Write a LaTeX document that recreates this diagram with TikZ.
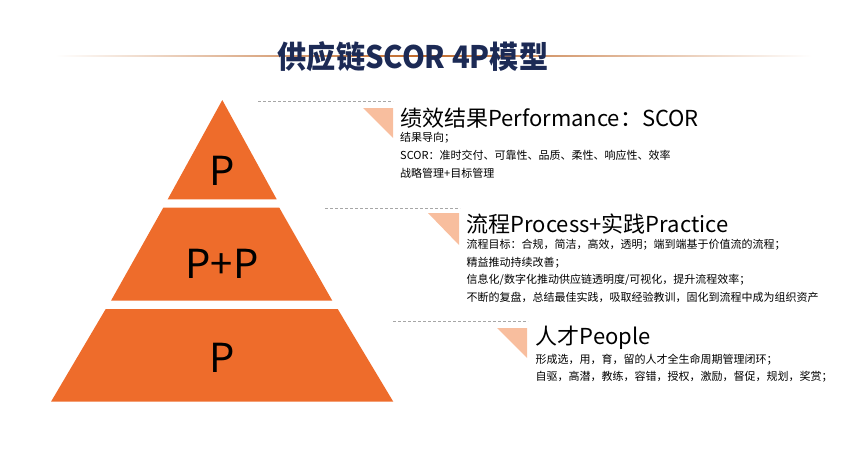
\documentclass[tikz,border=0pt]{standalone}
\usepackage{fontspec}
\setmainfont{Noto Sans CJK SC}
\usetikzlibrary{calc}
\definecolor{pyr}{HTML}{EE6C2B}
\definecolor{tri}{HTML}{F8BE9E}
\definecolor{navy}{HTML}{1C2A55}
\definecolor{tline}{HTML}{C0692A}
\tikzset{
  tier/.style={fill=pyr, draw=none},
  tierlabel/.style={font=\fontsize{40}{40}\selectfont, text=black, inner sep=0pt},
  corner/.style={fill=tri, draw=none},
  guide/.style={draw=gray!70, dashed, dash pattern=on 3pt off 2pt, line width=0.6pt},
  headline/.style={font=\fontsize{22}{22}\selectfont, anchor=west, inner sep=0pt},
  body/.style={font=\fontsize{11}{17.6}\selectfont, anchor=north west, inner sep=0pt, align=left},
}
\begin{document}
\begin{tikzpicture}[x=1pt,y=-1pt]
\useasboundingbox (0,0) rectangle (861,466);
% title line with fading ends
\shade[left color=white, right color=tline] (55,55.2) rectangle (420,56.4);
\shade[left color=tline, right color=white] (420,55.2) rectangle (812,56.4);
\node[font=\fontsize{31}{31}\selectfont\bfseries, text=navy, inner sep=0pt, xscale=0.94] (title) at (413,56.5) {供应链SCOR 4P模型};
% pyramid tiers
\path[tier] (222.3,100) -- (276.7,199.3) -- (167.7,199.3) -- cycle;
\path[tier] (163.3,207.7) -- (279.3,207.7) -- (332.3,300.7) -- (111,300.7) -- cycle;
\path[tier] (105.7,309) -- (337.7,309) -- (393.3,401.7) -- (51,401.7) -- cycle;
\node[tierlabel] (t1) at (222,171) {P};
\node[tierlabel] (t2) at (222,264) {P+P};
\node[tierlabel] (t3) at (222,358) {P};
% guide lines
\draw[guide] (258,101) -- (393,101);
\draw[guide] (325,208) -- (460,208);
\draw[guide] (393,321) -- (528,321);
% corner triangles
\path[corner] (363,108) -- (393,108) -- (393,138) -- cycle;
\path[corner] (428,213) -- (459,213) -- (459,245) -- cycle;
\path[corner] (497,328) -- (527,328) -- (527,358) -- cycle;
% block 1
\node[headline] (h1) at (400,118) {绩效结果Performance：SCOR};
\node[body] (b1) at (400,132.5) {结果导向；\\SCOR：准时交付、可靠性、品质、柔性、响应性、效率\\战略管理+目标管理};
% block 2
\node[headline] (h2) at (466.5,224) {流程Process+实践Practice};
\node[body] (b2) at (466.5,239) {流程目标：合规，简洁，高效，透明；端到端基于价值流的流程；\\精益推动持续改善；\\信息化/数字化推动供应链透明度/可视化，提升流程效率；\\不断的复盘，总结最佳实践，吸取经验教训，固化到流程中成为组织资产};
% block 3
\node[headline] (h3) at (535.5,337.5) {人才People};
\node[body] (b3) at (535.5,353.5) {形成选，用，育，留的人才全生命周期管理闭环；\\自驱，高潜，教练，容错，授权，激励，督促，规划，奖赏；};
\end{tikzpicture}
\end{document}
